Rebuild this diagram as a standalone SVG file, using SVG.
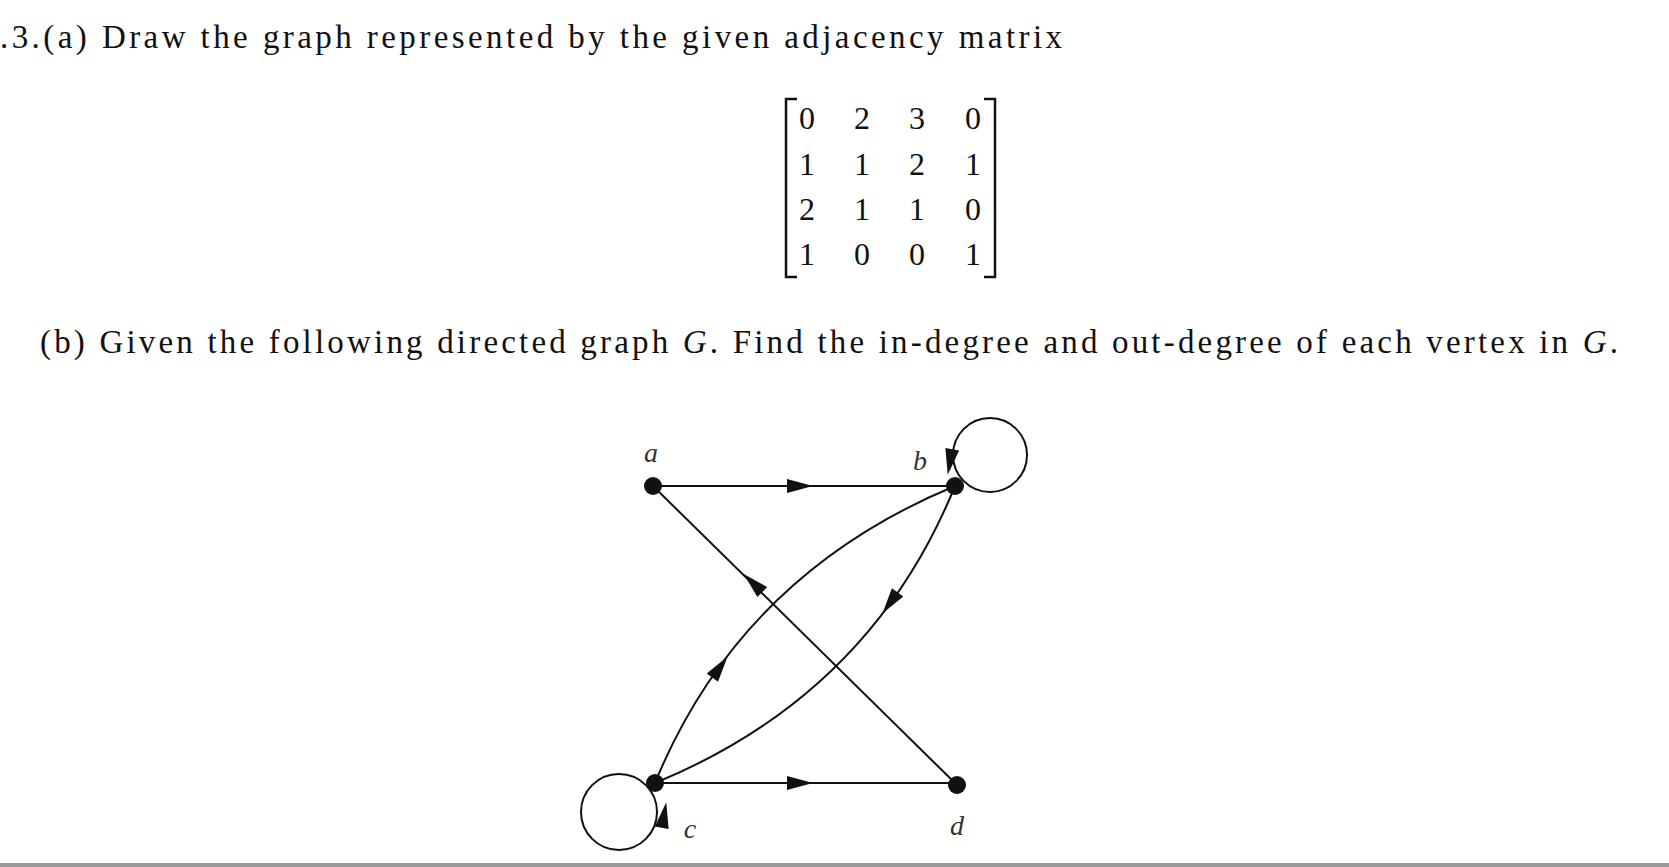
<svg xmlns="http://www.w3.org/2000/svg" xmlns:xlink="http://www.w3.org/1999/xlink" width="1669" height="867" viewBox="0 0 1669 867">
<style>
.t{font-family:"Liberation Serif","DejaVu Serif",serif;font-size:33px;fill:#111}
.m{font-family:"Liberation Serif","DejaVu Serif",serif;font-size:32px;fill:#111;text-anchor:middle}
.l{font-family:"Liberation Serif","DejaVu Serif",serif;font-size:28px;font-style:italic;fill:#333;text-anchor:middle}
.e{fill:none;stroke:#111;stroke-width:2}
.br{fill:none;stroke:#111;stroke-width:2.5}
</style>
<defs><path id="arr" d="M-13,-7 L13,0 L-13,7 z" fill="#111"/></defs>
<rect width="1669" height="867" fill="#fff"/>
<text class="t" x="0" y="48" textLength="1062" lengthAdjust="spacing">.3.(a) Draw the graph represented by the given adjacency matrix</text>
<path class="br" d="M797,99 H786 V277 H797 M984,99 H995 V277 H984"/>
<g class="m">
<text x="807" y="129">0</text><text x="862" y="129">2</text><text x="917" y="129">3</text><text x="973" y="129">0</text>
<text x="807" y="175">1</text><text x="862" y="175">1</text><text x="917" y="175">2</text><text x="973" y="175">1</text>
<text x="807" y="220">2</text><text x="862" y="220">1</text><text x="917" y="220">1</text><text x="973" y="220">0</text>
<text x="807" y="265">1</text><text x="862" y="265">0</text><text x="917" y="265">0</text><text x="973" y="265">1</text>
</g>
<text class="t" x="40" y="353" textLength="1578" lengthAdjust="spacing">(b) Given the following directed graph <tspan font-style="italic">G</tspan>. Find the in-degree and out-degree of each vertex in <tspan font-style="italic">G</tspan>.</text>
<g id="connectors">
<path class="e" d="M653,486 H955"/>
<path class="e" d="M655,783 H957"/>
<path class="e" d="M653,486 L957,785"/>
<path class="e" d="M655,783 Q740,575 955,486"/>
<path class="e" d="M955,486 Q870,695 655,783"/>
<circle class="e" cx="990" cy="455" r="37"/>
<circle class="e" cx="619" cy="812" r="38"/>
<use xlink:href="#arr" transform="translate(800,486)"/>
<use xlink:href="#arr" transform="translate(800,783)"/>
<use xlink:href="#arr" transform="translate(753,583) rotate(224.5)"/>
<use xlink:href="#arr" transform="translate(720,667) rotate(-54)"/>
<use xlink:href="#arr" transform="translate(890,603) rotate(125.6)"/>
<use xlink:href="#arr" transform="translate(950,462) rotate(100)"/>
<use xlink:href="#arr" transform="translate(664,815) rotate(-80)"/>
</g>
<g id="node-a"><circle cx="653" cy="486" r="9" fill="#111"/><text class="l" x="651" y="462">a</text></g>
<g id="node-b"><circle cx="955" cy="486" r="9" fill="#111"/><text class="l" x="920" y="470">b</text></g>
<g id="node-c"><circle cx="655" cy="783" r="9" fill="#111"/><text class="l" x="690" y="838">c</text></g>
<g id="node-d"><circle cx="957" cy="785" r="9" fill="#111"/><text class="l" x="957" y="835">d</text></g>
<rect x="0" y="863" width="1669" height="4" fill="#999"/>
</svg>
